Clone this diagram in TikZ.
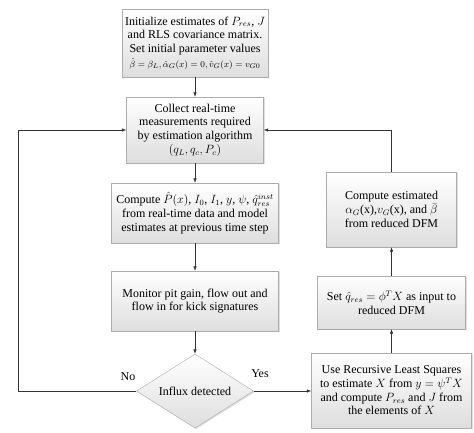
\documentclass[tikz,border=0pt]{standalone}
\usepackage{fontspec}
\setmainfont{Liberation Serif}
\usetikzlibrary{arrows.meta,shapes.geometric,shadows}
\begin{document}
\begin{tikzpicture}[x=1pt,y=-1pt,
  box/.style={draw=gray!65, top color=white, bottom color=gray!26, align=center,
    inner sep=0pt, font=\fontsize{12}{13.7}\selectfont,
    drop shadow={opacity=0.25, shadow xshift=1.2pt, shadow yshift=-1.2pt}},
  dia/.style={box, shape=diamond, aspect=1.6},
  arr/.style={draw=black!80, line width=0.6pt, -{Latex[length=4.5pt,width=3.5pt]}},
  lbl/.style={font=\fontsize{12}{13.7}\selectfont}]
\useasboundingbox (0,0) rectangle (474,432);
\fill[white] (0,0) rectangle (474,432);

\node[box, minimum width=146pt, minimum height=68pt] (init) at (195,43)
  {Initialize estimates of $P_{res}$, $J$\\ and RLS covariance matrix.\\ Set initial parameter values\\[1pt]
   {\fontsize{9.5}{11}\selectfont $\hat\beta=\beta_L,\hat\alpha_G(x)=0,\hat v_G(x)=v_{G0}$}};
\node[box, minimum width=137pt, minimum height=66pt] (collect) at (195,130)
  {Collect real-time\\ measurements required\\ by estimation algorithm\\ $(q_L,q_c,P_c)$};
\node[box, minimum width=167pt, minimum height=60pt] (compute) at (195,213)
  {Compute $\hat P(x)$, $I_0$, $I_1$, $y$, $\psi$, $\hat q_{res}^{inst}$\\ from real-time data and model\\ estimates at previous time step};
\node[box, minimum width=167pt, minimum height=60pt] (monitor) at (195,301)
  {Monitor pit gain, flow out and\\ flow in for kick signatures};
\node[dia, minimum width=117pt, minimum height=74pt] (influx) at (195,391) {Influx detected};

\node[box, minimum width=130pt, minimum height=75pt] (est) at (391.5,209.5)
  {Compute estimated\\ $\alpha_G$(x),$v_G$(x), and $\bar\beta$\\ from reduced DFM};
\node[box, minimum width=148pt, minimum height=53pt] (set) at (391.5,302.5)
  {Set $\hat q_{res}=\phi^T X$ as input to\\ reduced DFM};
\node[box, minimum width=160pt, minimum height=75pt] (rls) at (391.5,390.5)
  {Use Recursive Least Squares\\ to estimate $X$ from $y=\psi^T X$\\ and compute $P_{res}$ and $J$ from\\ the elements of $X$};

\coordinate (lft) at (18,130);
\draw[arr] (init) -- (collect);
\draw[arr] (collect) -- (compute);
\draw[arr] (compute) -- (monitor);
\draw[arr] (monitor) -- (influx);
\draw[arr] (influx.east) -- (influx.east -| rls.west);
\draw[arr] (influx.west) -| (lft) -- (collect.west);
\draw[arr] (rls) -- (set);
\draw[arr] (set) -- (est);
\draw[arr] (est.north) |- (collect.east);

\node[lbl] (no) at (128,377) {No};
\node[lbl] (yes) at (260,374) {Yes};
\end{tikzpicture}
\end{document}
